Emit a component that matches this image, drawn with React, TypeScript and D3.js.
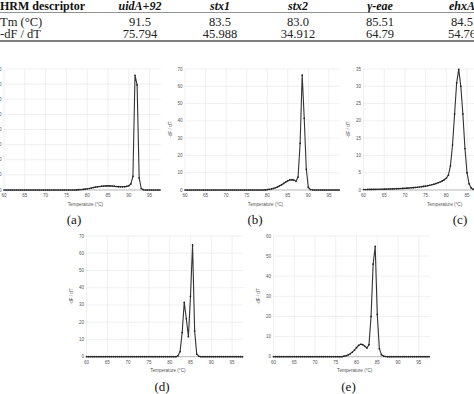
import React from "react";
import * as d3 from "d3";

// ---------- table data ----------
const tableHeaders = ["uidA+92", "stx1", "stx2", "γ-eae", "ehxA"];
const tmValues = ["91.5", "83.5", "83.0", "85.51", "84.5"];
const dfValues = ["75.794", "45.988", "34.912", "64.79", "54.76"];

// ---------- curve data (temperature every 0.5 °C) ----------
const temps = [
  60, 60.5, 61, 61.5, 62, 62.5, 63, 63.5, 64, 64.5, 65, 65.5, 66, 66.5, 67, 67.5, 68, 68.5, 69, 69.5,
  70, 70.5, 71, 71.5, 72, 72.5, 73, 73.5, 74, 74.5, 75, 75.5, 76, 76.5, 77, 77.5, 78, 78.5, 79, 79.5,
  80, 80.5, 81, 81.5, 82, 82.5, 83, 83.5, 84, 84.5, 85, 85.5, 86, 86.5, 87, 87.5, 88, 88.5, 89, 89.5,
  90, 90.5, 91, 91.5, 92, 92.5, 93, 93.5, 94, 94.5, 95, 95.5, 96, 96.5, 97, 97.5,
];

const uidA = [
  0, 0, 0, 0, 0, 0, 0, 0, 0, 0, 0, 0, 0, 0, 0, 0, 0, 0, 0, 0,
  0, 0, 0, 0, 0, 0, 0, 0, 0, 0, 0, 0, 0, 0, 0,
  0.1, 0.2, 0.3, 0.4, 0.6, 0.8, 1.0, 1.3, 1.6, 1.9, 2.1, 2.3, 2.5, 2.6, 2.7, 2.7, 2.7, 2.6, 2.5, 2.3,
  2.2, 2.1, 2.1, 2.2, 2.4, 2.8, 4, 9, 75.8, 69.5, 8, 1, 0.2,
  0, 0, 0, 0, 0, 0, 0, 0,
];

const stx1 = [
  0, 0, 0, 0, 0, 0, 0, 0, 0, 0, 0, 0, 0, 0, 0, 0, 0, 0, 0, 0,
  0, 0, 0, 0, 0, 0, 0, 0, 0, 0, 0, 0, 0, 0, 0, 0, 0, 0, 0,
  0.1, 0.2, 0.4, 0.6, 0.9, 1.3, 1.8, 2.4, 3.0, 3.8, 4.6, 5.3, 5.8, 6.0, 5.7, 5.0, 7.5, 27, 66.5, 41.5,
  12, 1.5, 0.3, 0.1,
  0, 0, 0, 0, 0, 0, 0, 0, 0, 0, 0, 0, 0,
];

const stx2 = [
  0.15, 0.15, 0.16, 0.17, 0.18, 0.19, 0.2, 0.21, 0.22, 0.23, 0.25, 0.26, 0.28, 0.3, 0.32, 0.34, 0.37, 0.4, 0.43, 0.46,
  0.5, 0.54, 0.58, 0.63, 0.68, 0.74, 0.8, 0.87, 0.95, 1.04, 1.14, 1.25, 1.38, 1.52, 1.68, 1.86, 2.07, 2.32, 2.62, 2.98,
  3.4, 4.3, 7, 13, 22, 31, 34.9, 30, 22, 12, 5, 1.8, 0.6, 0.2, 0.1,
  0, 0, 0, 0, 0, 0, 0, 0, 0, 0, 0, 0, 0, 0, 0, 0, 0, 0, 0, 0, 0,
];

const eae = [
  0, 0, 0, 0, 0, 0, 0, 0, 0, 0, 0, 0, 0, 0, 0, 0, 0, 0, 0, 0,
  0, 0, 0, 0, 0, 0, 0, 0, 0, 0, 0, 0, 0, 0, 0, 0, 0, 0, 0, 0, 0, 0, 0, 0,
  0.5, 3, 14, 31.5, 22, 11.6, 35, 64.8, 15, 1.5, 0.3,
  0, 0, 0, 0, 0, 0, 0, 0, 0, 0, 0, 0, 0, 0, 0, 0, 0, 0, 0, 0, 0,
];

const ehxA = [
  0, 0, 0, 0, 0, 0, 0, 0, 0, 0, 0, 0, 0, 0, 0, 0, 0, 0, 0, 0,
  0, 0, 0, 0, 0, 0, 0, 0, 0, 0, 0, 0, 0, 0,
  0.3, 0.5, 0.9, 1.5, 2.3, 3.3, 4.5, 5.6, 6.2, 6.0, 5.2, 4.3, 6, 20, 46, 54.8, 21, 4, 1, 0.3, 0.1,
  0, 0, 0, 0, 0, 0, 0, 0, 0, 0, 0, 0, 0, 0, 0, 0, 0, 0, 0, 0, 0,
];

const xTicks = [60, 65, 70, 75, 80, 85, 90, 95];
const captions = ["(a)", "(b)", "(c)", "(d)", "(e)"];

const SANS = "Arial, 'Liberation Sans', sans-serif";
const SERIF = "'Liberation Serif', 'Times New Roman', serif";

type PanelProps = {
  values: number[];
  yMax: number;
  yStep: number;
  x0: number;
  x1: number;
  yBottom: number;
  yTop: number;
  caption: string;
  capX: number;
  capY: number;
};

function Panel({ values, yMax, yStep, x0, x1, yBottom, yTop, caption, capX, capY }: PanelProps) {
  const x = d3.scaleLinear().domain([60, 97.7]).range([x0, x1]);
  const y = d3.scaleLinear().domain([0, yMax]).range([yBottom, yTop]);
  const yTicks = d3.range(0, yMax + 0.001, yStep);
  const pts = temps.map((t, i) => [t, values[i]] as [number, number]);
  const line = d3
    .line<[number, number]>()
    .x((d) => x(d[0]))
    .y((d) => y(d[1]));
  const midX = (x0 + x1) / 2 + 3;
  return (
    <g>
      {yTicks.map((v) => (
        <line key={"h" + v} x1={x0} x2={x1} y1={y(v)} y2={y(v)} stroke="#e6e6e6" strokeWidth={0.6} />
      ))}
      {xTicks.map((v) => (
        <line key={"v" + v} x1={x(v)} x2={x(v)} y1={yBottom} y2={yTop} stroke="#e6e6e6" strokeWidth={0.6} />
      ))}
      <line x1={x0} x2={x1} y1={yBottom} y2={yBottom} stroke="#999" strokeWidth={0.6} />
      {yTicks.map((v) => (
        <text
          key={"yl" + v}
          x={x0 - 2.5}
          y={y(v) + 1.5}
          fontSize={4.5}
          fill="#555"
          textAnchor="end"
          fontFamily={SANS}
        >
          {v}
        </text>
      ))}
      {xTicks.map((v) => (
        <text
          key={"xl" + v}
          x={x(v)}
          y={yBottom + 7}
          fontSize={4.5}
          fill="#555"
          textAnchor="middle"
          fontFamily={SANS}
        >
          {v}
        </text>
      ))}
      <text x={midX} y={yBottom + 15.5} fontSize={4.6} fill="#555" textAnchor="middle" fontFamily={SANS}>
        Temperature (°C)
      </text>
      <text
        transform={`translate(${x0 - 13.5},${(yBottom + yTop) / 2}) rotate(-90)`}
        fontSize={4.6}
        fill="#555"
        textAnchor="middle"
        fontFamily={SANS}
      >
        -dF / dT
      </text>
      <path d={line(pts) || ""} fill="none" stroke="#333" strokeWidth={1.1} strokeLinejoin="round" />
      {pts.map((p, i) => (
        <circle key={"p" + i} cx={x(p[0])} cy={y(p[1])} r={0.85} fill="#222" />
      ))}
      <text x={capX} y={capY} fontSize={13} fill="#111" textAnchor="middle" fontFamily={SERIF}>
        {caption}
      </text>
    </g>
  );
}

export default function App() {
  const colX = [140, 220, 298, 380, 462];
  return (
    <svg
      width={474}
      height={394}
      style={{ position: "absolute", left: 0, top: 0, background: "#fff" }}
      viewBox="0 0 474 394"
    >
      <rect x={0} y={0} width={474} height={394} fill="#fff" />
      {/* table */}
      <text x={0} y={9.5} fontSize={12} fontWeight="bold" fontFamily={SERIF} fill="#111">
        HRM descriptor
      </text>
      {tableHeaders.map((h, i) => (
        <text
          key={h}
          x={colX[i]}
          y={9.5}
          fontSize={12}
          fontWeight="bold"
          fontStyle="italic"
          textAnchor="middle"
          fontFamily={SERIF}
          fill="#111"
        >
          {h}
        </text>
      ))}
      <line x1={0} x2={474} y1={12.5} y2={12.5} stroke="#777" strokeWidth={0.8} />
      <text x={0} y={25.5} fontSize={12.5} fontFamily={SERIF} fill="#222">
        Tm (°C)
      </text>
      {tmValues.map((v, i) => (
        <text key={"tm" + i} x={colX[i]} y={25.5} fontSize={12.5} textAnchor="middle" fontFamily={SERIF} fill="#222">
          {v}
        </text>
      ))}
      <text x={0} y={37.5} fontSize={12.5} fontFamily={SERIF} fill="#222">
        -dF / dT
      </text>
      {dfValues.map((v, i) => (
        <text key={"df" + i} x={colX[i]} y={37.5} fontSize={12.5} textAnchor="middle" fontFamily={SERIF} fill="#222">
          {v}
        </text>
      ))}
      <line x1={0} x2={474} y1={41} y2={41} stroke="#555" strokeWidth={1.3} />

      <Panel values={uidA} yMax={80} yStep={10} x0={4} x1={160.8} yBottom={190} yTop={69} caption={captions[0]} capX={74} capY={224} />
      <Panel values={stx1} yMax={70} yStep={10} x0={185} x1={340} yBottom={190} yTop={69} caption={captions[1]} capX={255} capY={224} />
      <Panel values={stx2} yMax={35} yStep={5} x0={363.5} x1={519.6} yBottom={190} yTop={69} caption={captions[2]} capX={460} capY={224} />
      <Panel values={eae} yMax={70} yStep={10} x0={86.5} x1={243.3} yBottom={356.7} yTop={236} caption={captions[3]} capX={162} capY={391} />
      <Panel values={ehxA} yMax={60} yStep={10} x0={273.5} x1={430} yBottom={356.7} yTop={236} caption={captions[4]} capX={348.5} capY={391} />
    </svg>
  );
}
